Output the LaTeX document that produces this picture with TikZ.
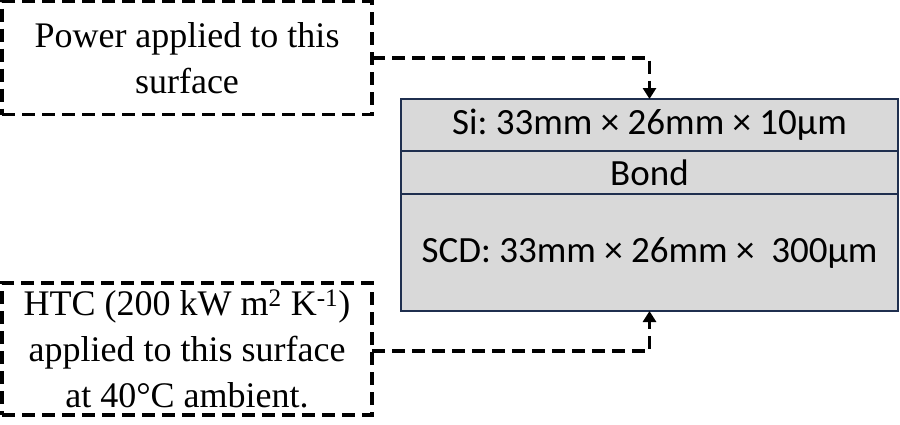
\documentclass[tikz,border=0pt]{standalone}
\usepackage{fontspec}
\setmainfont{Liberation Serif}
\newfontfamily\calib{Carlito}
\usetikzlibrary{arrows.meta}
\frenchspacing
\definecolor{layerfill}{HTML}{D9D9D9}
\definecolor{layerline}{HTML}{1F2F4F}
\tikzset{
  layer/.style={draw=layerline, line width=1.8pt, fill=layerfill, minimum width=497pt,
    inner sep=0pt, outer sep=0pt, font=\calib\fontsize{37}{44}\selectfont},
  notebox/.style={draw=black, line width=3.2pt, dash pattern=on 13pt off 7pt,
    align=center, inner sep=0pt, outer sep=0pt, minimum width=370pt,
    font=\fontsize{36}{46}\selectfont},
  conn/.style={draw=black, line width=3.2pt, dash pattern=on 13pt off 7pt,
    -{Triangle[width=13pt,length=11pt]}}
}
\begin{document}
\begin{tikzpicture}[x=1pt,y=-1pt]
\useasboundingbox (0,0) rectangle (900,424);
\node[layer, minimum height=52pt] (si) at (649.5,125) {Si: 33mm × 26mm × 10μm};
\node[layer, minimum height=43pt] (bond) at (649.5,172.5) {Bond};
\node[layer, minimum height=117pt] (scd) at (649.5,252.5) {SCD: 33mm × 26mm ×\ \ 300μm};
\node[notebox, minimum height=113pt] (pbox) at (187,58) {Power applied to this\\surface};
\node[notebox, minimum height=132pt] (hbox) at (187,349) {HTC (200 kW m\textsuperscript{2} K\textsuperscript{-1})\\applied to this surface\\at 40°C ambient.};
\draw[conn] ([yshift=0pt]pbox.east) -| (si.north);
\draw[conn] ([yshift=-2pt]hbox.east) -| (scd.south);
\end{tikzpicture}
\end{document}
